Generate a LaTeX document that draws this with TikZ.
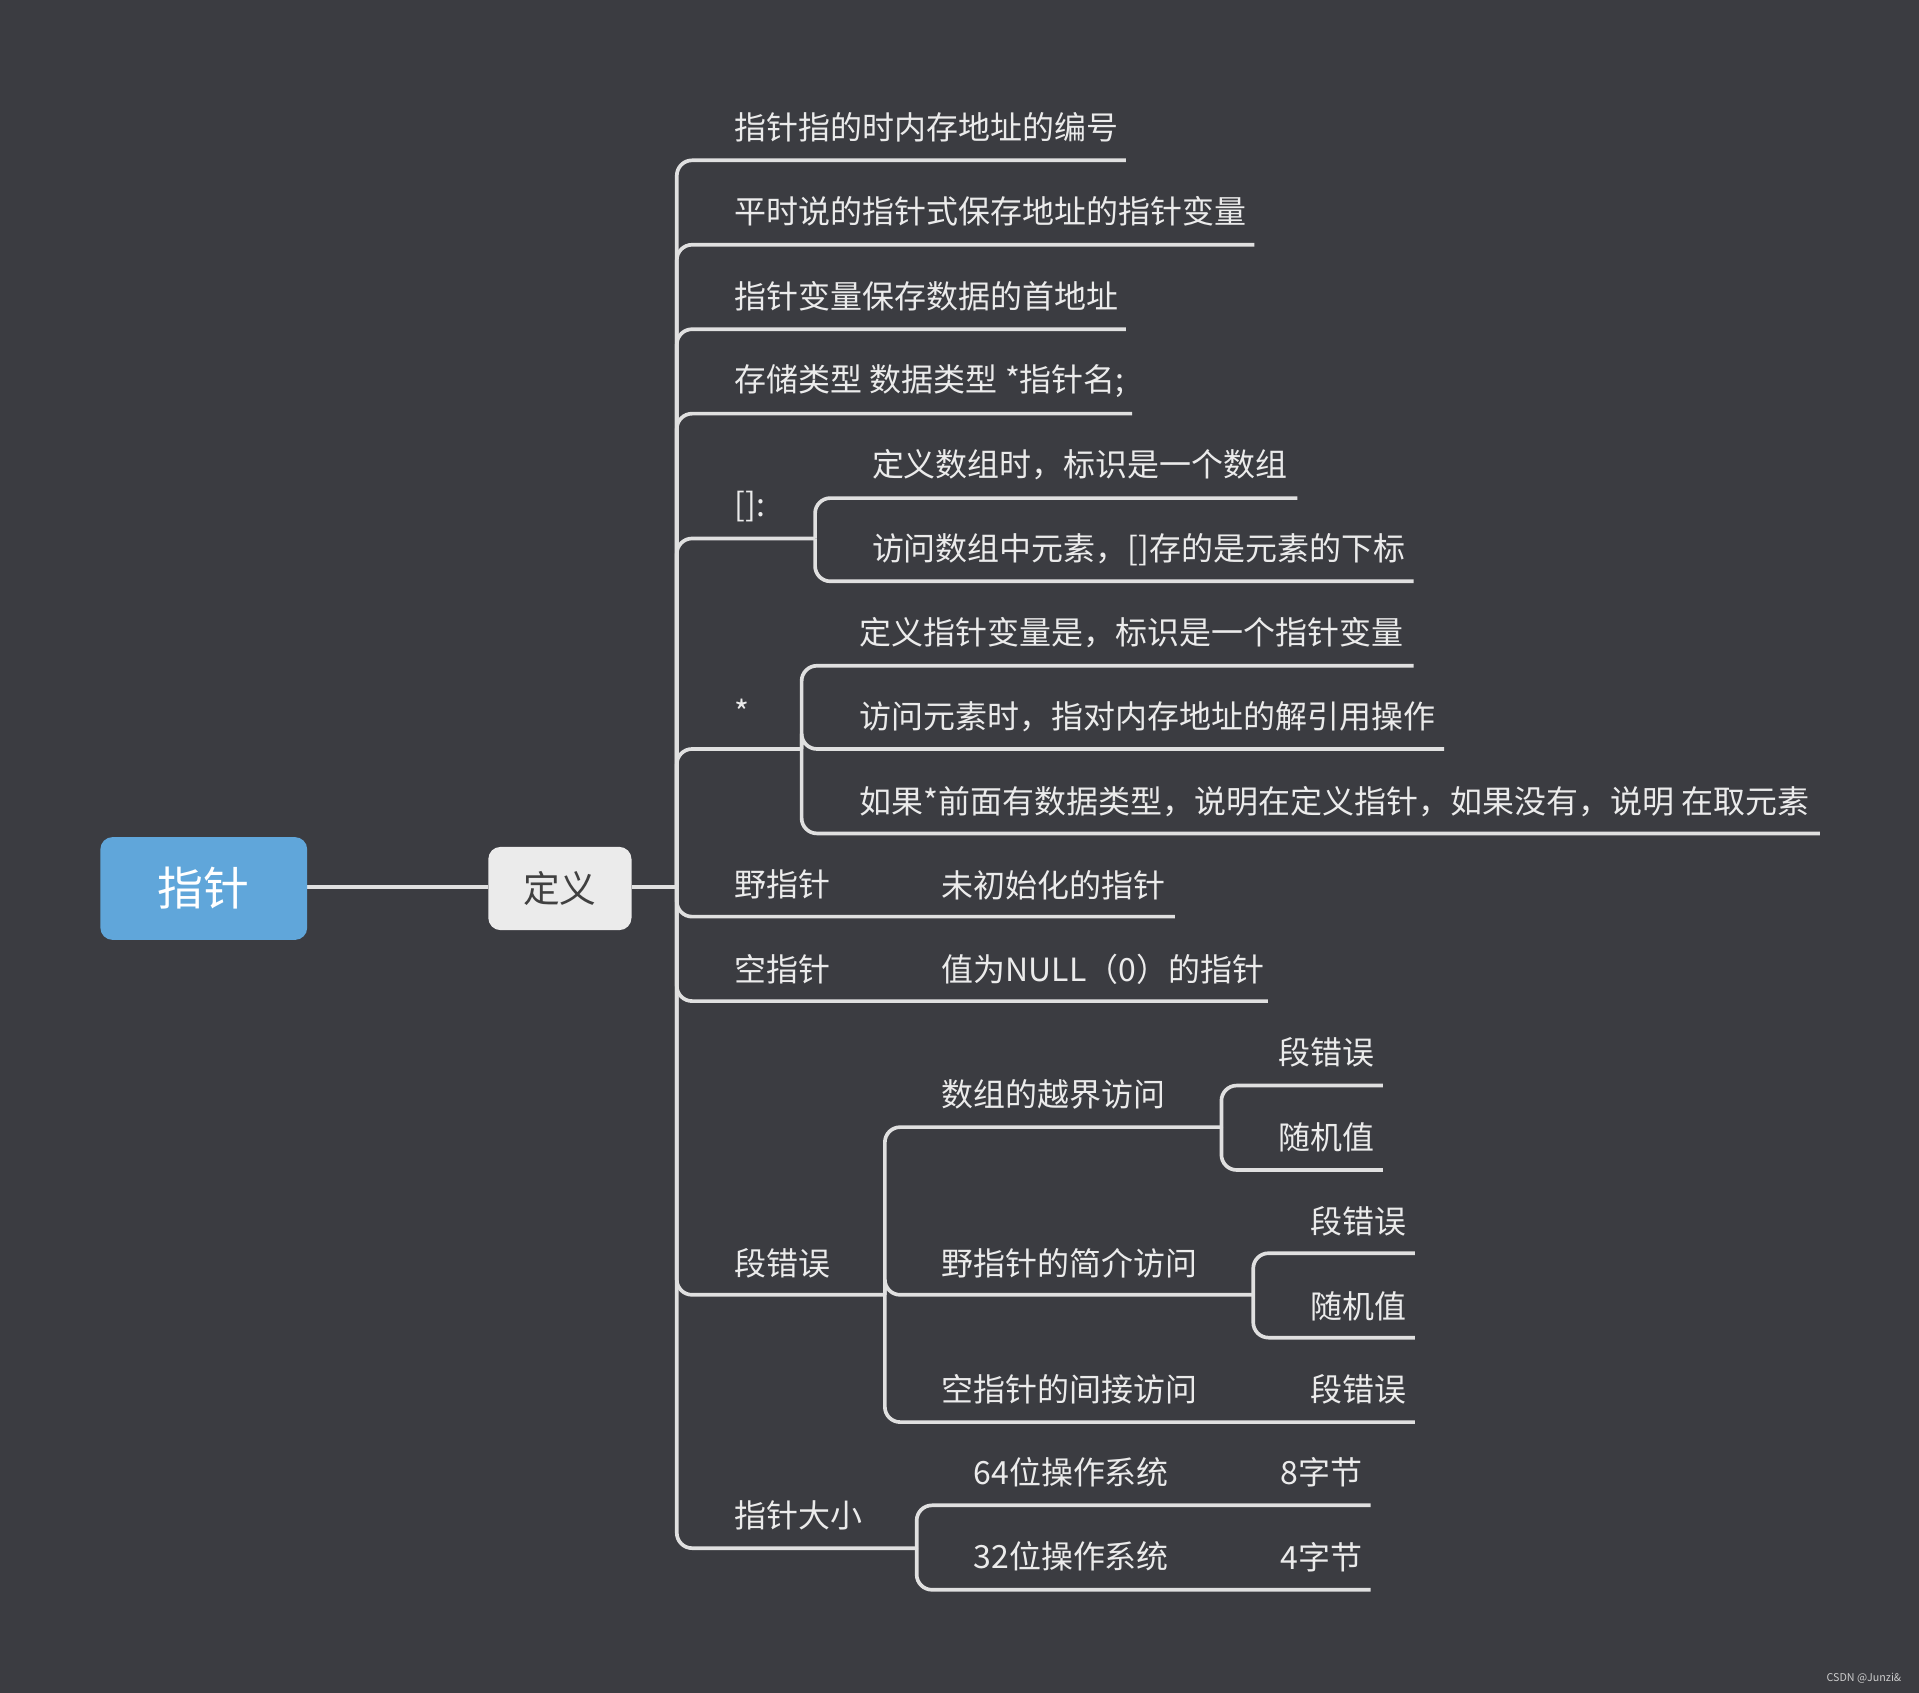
\documentclass[tikz,border=0pt]{standalone}
\usepackage{fontspec}
\setmainfont{Noto Sans CJK SC}
\begin{document}
\begin{tikzpicture}[x=0.4pt,y=-0.4pt,
  ln/.style={draw=white!88!black,line width=1.2pt,rounded corners=5pt},
  tx/.style={anchor=west,text=white!92!black,font=\fontsize{10.45}{12}\selectfont,inner sep=0pt}]
\fill[fill={rgb,255:red,59;green,60;blue,65}] (0,0) rectangle (1568,1383);
\useasboundingbox (0,0) rectangle (1568,1383);
% root & definition
\draw[ln] (251,725) -- (399,725);
\draw[ln] (516,725) -- (553,725);
\node[fill={rgb,255:red,96;green,166;blue,218},rounded corners=4pt,minimum width=67.6pt,minimum height=33.6pt,inner sep=0pt,text=white,font=\fontsize{15}{16}\selectfont] (root) at (166.5,726) {指针};
\node[fill=white!92!black,rounded corners=4pt,minimum width=46.8pt,minimum height=27.2pt,inner sep=0pt,text=black!75,font=\fontsize{12}{14}\selectfont] (def) at (457.5,726) {定义};
% trunk branches
\foreach \y/\e in {131/920,200/1025,269/920,338/925,440/666,612/655,749/960,818/1036,1058/723,1265/749}
  \draw[ln] (553,725) -- (553,\y) -- (\e,\y);
% []:
\foreach \y/\e in {407/1060,475/1155} \draw[ln] (666,440) -- (666,\y) -- (\e,\y);
% *
\foreach \y/\e in {544/1155,612/1180,681/1487} \draw[ln] (655,612) -- (655,\y) -- (\e,\y);
% 段错误
\foreach \y/\e in {921/998,1058/1024,1162/1156} \draw[ln] (723,1058) -- (723,\y) -- (\e,\y);
\foreach \y in {887,956} \draw[ln] (998,921) -- (998,\y) -- (1130,\y);
\foreach \y in {1024,1093} \draw[ln] (1024,1058) -- (1024,\y) -- (1156,\y);
% 指针大小
\foreach \y in {1230,1299} \draw[ln] (749,1265) -- (749,\y) -- (1120,\y);
% texts
\node[tx] (t1) at (600,104) {指针指的时内存地址的编号};
\node[tx] (t2) at (600,173) {平时说的指针式保存地址的指针变量};
\node[tx] (t3) at (600,242) {指针变量保存数据的首地址};
\node[tx] (t4) at (600,311) {存储类型 数据类型 *指针名;};
\node[tx] (t5) at (600,414) {[]:};
\node[tx] (t51) at (712,380) {定义数组时，标识是一个数组};
\node[tx] (t52) at (712,449) {访问数组中元素，[]存的是元素的下标};
\node[tx] (t6) at (600,582) {*};
\node[tx] (t61) at (702,517) {定义指针变量是，标识是一个指针变量};
\node[tx] (t62) at (702,586) {访问元素时，指对内存地址的解引用操作};
\node[tx] (t63) at (702,655) {如果*前面有数据类型，说明在定义指针，如果没有，说明 在取元素};
\node[tx] (t7) at (600,723) {野指针};
\node[tx] (t71) at (769,723) {未初始化的指针};
\node[tx] (t8) at (600,792) {空指针};
\node[tx] (t81) at (769,792) {值为NULL（0）的指针};
\node[tx] (t9) at (600,1032) {段错误};
\node[tx] (t91) at (769,894) {数组的越界访问};
\node[tx] (t911) at (1044,860) {段错误};
\node[tx] (t912) at (1044,929) {随机值};
\node[tx] (t92) at (769,1032) {野指针的简介访问};
\node[tx] (t921) at (1070,998) {段错误};
\node[tx] (t922) at (1070,1067) {随机值};
\node[tx] (t93) at (769,1135) {空指针的间接访问};
\node[tx] (t931) at (1070,1135) {段错误};
\node[tx] (t10) at (600,1238) {指针大小};
\node[tx] (t101) at (795,1203) {64位操作系统};
\node[tx] (t1011) at (1046,1203) {8字节};
\node[tx] (t102) at (795,1272) {32位操作系统};
\node[tx] (t1021) at (1046,1272) {4字节};
\node[anchor=west,inner sep=0pt,text=white!80!black,font=\fontsize{3.5}{4}\selectfont] (wm) at (1492,1371) {CSDN @Junzi\&};
\end{tikzpicture}
\end{document}
